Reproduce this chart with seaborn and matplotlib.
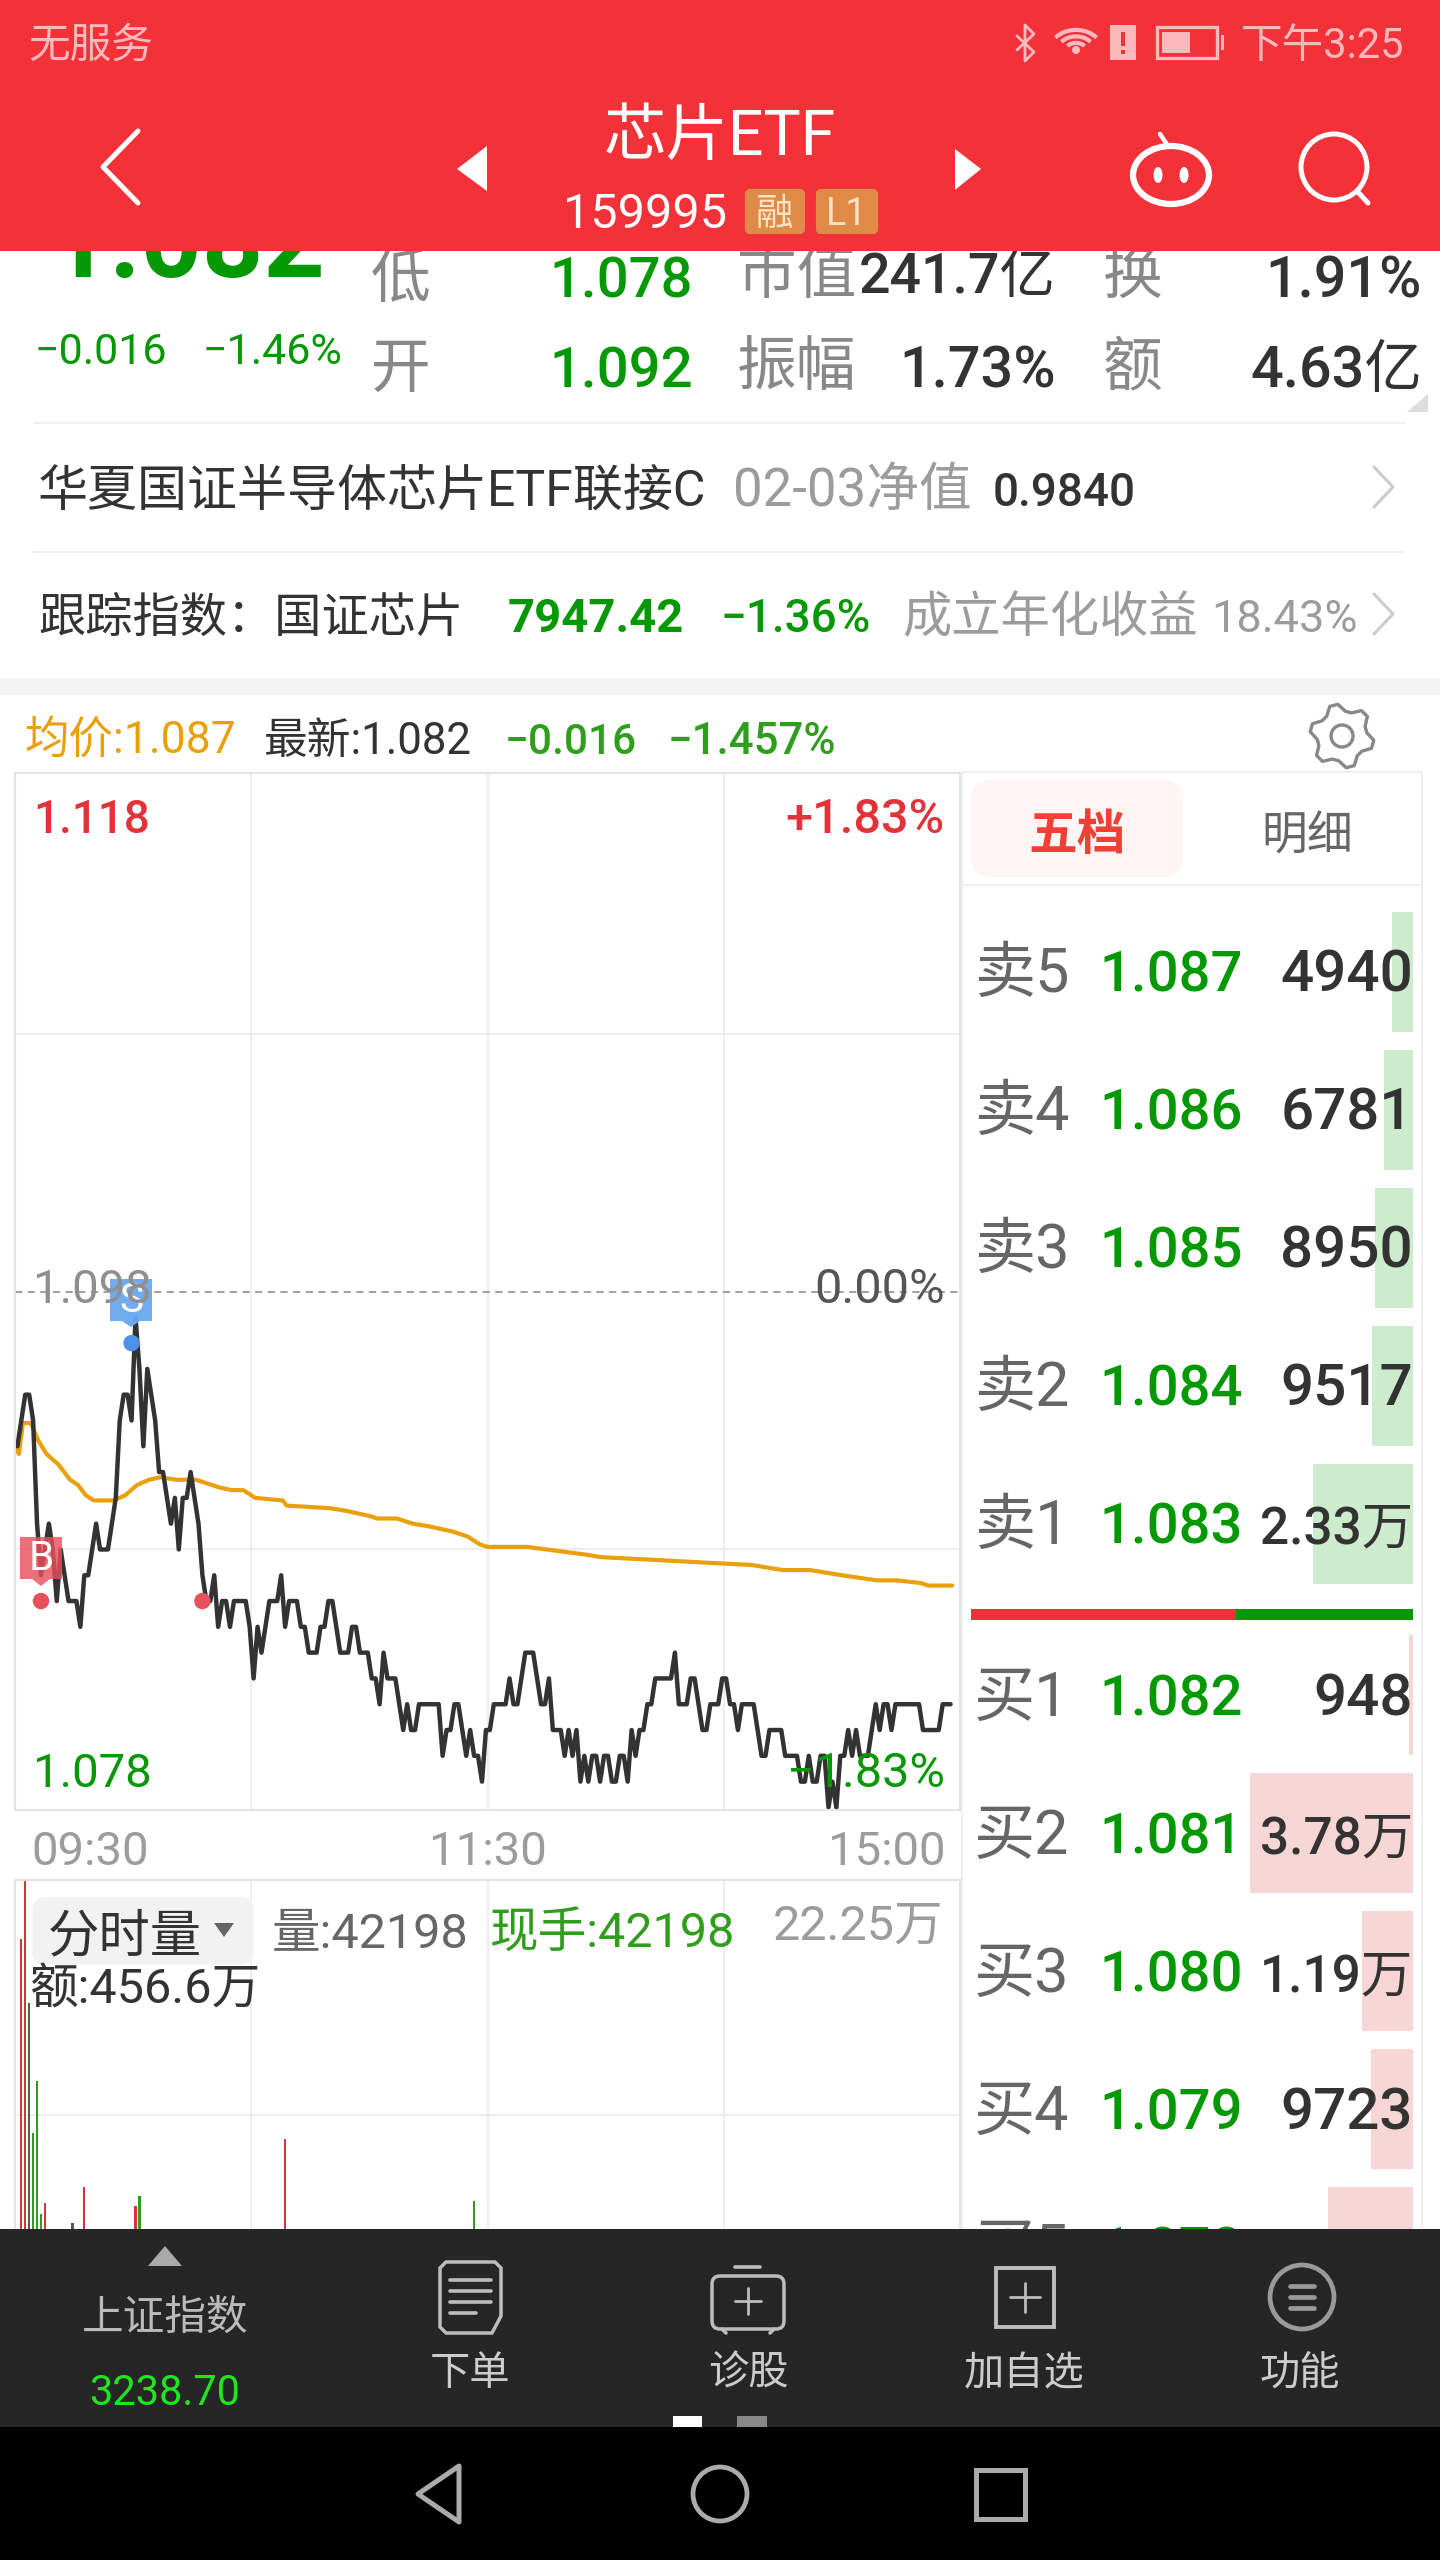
"""Intraday quote screen for the chip ETF, redrawn with seaborn."""

import math

import matplotlib

matplotlib.use("Agg")
import matplotlib.pyplot as plt  # noqa: E402
import seaborn as sns
from matplotlib.patches import Circle, Ellipse, FancyBboxPatch, Polygon, Rectangle, Arc

W, H = 1440, 2560

# last price per minute
price = [
    1.092, 1.093, 1.094, 1.094, 1.093, 1.089, 1.087, 1.088, 1.089, 1.088,
    1.086, 1.088, 1.087, 1.086, 1.086, 1.086, 1.085, 1.087, 1.087, 1.088,
    1.089, 1.088, 1.088, 1.088, 1.089, 1.090, 1.093, 1.094, 1.094, 1.093,
    1.097, 1.095, 1.092, 1.095, 1.094, 1.093, 1.091, 1.091, 1.090, 1.089,
    1.090, 1.088, 1.090, 1.090, 1.091, 1.090, 1.089, 1.087, 1.086, 1.086,
    1.087, 1.085, 1.086, 1.086, 1.085, 1.086, 1.086, 1.086, 1.086, 1.085,
    1.083, 1.085, 1.084, 1.085, 1.086, 1.086, 1.086, 1.087, 1.085, 1.086,
    1.086, 1.086, 1.085, 1.085, 1.084, 1.084, 1.084, 1.085, 1.085, 1.086,
    1.086, 1.085, 1.084, 1.084, 1.084, 1.085, 1.085, 1.084, 1.084, 1.084,
    1.083, 1.083, 1.082, 1.084, 1.083, 1.083, 1.083, 1.082, 1.081, 1.082,
    1.081, 1.081, 1.082, 1.082, 1.082, 1.082, 1.082, 1.082, 1.080, 1.081,
    1.081, 1.082, 1.082, 1.081, 1.080, 1.081, 1.080, 1.080, 1.079, 1.081,
    1.081, 1.082, 1.082, 1.082, 1.082, 1.083, 1.082, 1.082, 1.083, 1.084,
    1.084, 1.084, 1.083, 1.082, 1.082, 1.083, 1.081, 1.081, 1.081, 1.080,
    1.081, 1.080, 1.081, 1.079, 1.080, 1.079, 1.080, 1.080, 1.079, 1.080,
    1.080, 1.079, 1.079, 1.080, 1.080, 1.079, 1.081, 1.080, 1.081, 1.081,
    1.082, 1.082, 1.083, 1.083, 1.083, 1.083, 1.083, 1.084, 1.082, 1.082,
    1.082, 1.083, 1.083, 1.082, 1.081, 1.081, 1.082, 1.082, 1.082, 1.083,
    1.083, 1.082, 1.082, 1.081, 1.082, 1.082, 1.082, 1.082, 1.081, 1.080,
    1.080, 1.081, 1.081, 1.081, 1.081, 1.080, 1.080, 1.080, 1.080, 1.079,
    1.079, 1.080, 1.079, 1.079, 1.080, 1.080, 1.078, 1.079, 1.078, 1.080,
    1.080, 1.081, 1.080, 1.081, 1.080, 1.080, 1.080, 1.081, 1.082, 1.081,
    1.082, 1.082, 1.081, 1.082, 1.082, 1.082, 1.082, 1.082, 1.082, 1.082,
    1.081, 1.081, 1.081, 1.081, 1.081, 1.082, 1.082, 1.082,
]

# average price, read at the points where the curve changes slope
avg_minute = [
    0, 1, 2, 4, 6, 8, 11, 14, 16, 18, 20, 25, 28, 31, 34, 37, 41, 46, 50, 52,
    55, 58, 61, 68, 69, 80, 84, 90, 92, 97, 101, 105, 108, 111, 115, 117, 118,
    120, 130, 135, 145, 149, 162, 174, 187, 195, 202, 206, 210, 219, 224, 230,
    232, 238,
]
avg_price = [
    1.0920, 1.0917, 1.0929, 1.0929, 1.0922, 1.0917, 1.0913, 1.0907, 1.0905,
    1.0901, 1.0899, 1.0899, 1.0901, 1.0905, 1.0907, 1.0908, 1.0907, 1.0907,
    1.0905, 1.0904, 1.0903, 1.0903, 1.0900, 1.0899, 1.0897, 1.0896, 1.0895,
    1.0893, 1.0892, 1.0892, 1.0890, 1.0889, 1.0888, 1.0887, 1.0885, 1.0883,
    1.0882, 1.0881, 1.0881, 1.0880, 1.0878, 1.0877, 1.0876, 1.0875, 1.0874,
    1.0872, 1.0872, 1.0871, 1.0870, 1.0868, 1.0868, 1.0867, 1.0866, 1.0866,
]

# buy and sell flags on the price line
trade_minute = [6, 47, 29]
trade_price = [1.086, 1.086, 1.096]
trade_side = ["buy", "buy", "sell"]

# the tall volume bars that show above the bottom bar
vol_minute = [1, 2, 3, 4, 5, 6, 7, 14, 17, 30, 31, 68, 116]
vol_value = [
    194600, 222500, 164300, 102700, 127300, 64400, 69600,
    60100, 77200, 68200, 72900, 99900, 70500,
]
vol_side = [
    "up", "up", "flat", "down", "down", "down", "up",
    "flat", "up", "up", "down", "up", "down",
]

ask_labels = ["卖5", "卖4", "卖3", "卖2", "卖1"]
ask_prices = ["1.087", "1.086", "1.085", "1.084", "1.083"]
ask_volumes = [4940, 6781, 8950, 9517, 23300]
ask_texts = ["4940", "6781", "8950", "9517", "2.33万"]

bid_labels = ["买1", "买2", "买3", "买4", "买5"]
bid_prices = ["1.082", "1.081", "1.080", "1.079", "1.078"]
bid_volumes = [948, 37800, 11900, 9723, 19800]
bid_texts = ["948", "3.78万", "1.19万", "9723", "1.98万"]

nav_labels = ["下单", "诊股", "加自选", "功能"]

RED = "#F23139"
GREEN = "#049804"
GREEN2 = "#2F9E1D"
PRICE_RED = "#E2323A"
ORANGE = "#E9A00C"
DARK = "#333333"
GRAY = "#9C9C9C"
MID = "#666666"
LINE = "#ECECEC"

sns.set_theme(style="white")
plt.rcParams["font.family"] = ["Roboto", "Noto Sans CJK SC", "DejaVu Sans"]
plt.rcParams["axes.unicode_minus"] = False

fig = plt.figure(figsize=(W / 100, H / 100), dpi=100, facecolor="white")


def layer(z):
    ax = fig.add_axes([0, 0, 1, 1], zorder=z, facecolor="none")
    ax.set_xlim(0, W)
    ax.set_ylim(H, 0)
    ax.axis("off")
    return ax


def panel(left, top, right, bottom, z=1):
    ax = fig.add_axes(
        [left / W, 1 - bottom / H, (right - left) / W, (bottom - top) / H],
        zorder=z,
        facecolor="none",
    )
    return ax


def put(ax, x, y, s, size, color, ha="left", weight="normal"):
    ax.text(x, y, s, fontsize=size, color=color, ha=ha, va="baseline", fontweight=weight)


def rect(ax, x0, y0, x1, y1, color, **kw):
    ax.add_patch(Rectangle((x0, y0), x1 - x0, y1 - y0, fc=color, ec="none", **kw))


def stroke(ax, xs, ys, color, lw):
    ax.plot(xs, ys, color=color, lw=lw, solid_capstyle="round", solid_joinstyle="round")


back = layer(0)
over = layer(3)
front = layer(4)

# page furniture behind the charts
rect(back, 0, 678, W, 695, "#F4F4F4")
for y in (423, 552):
    back.plot([34, 1405], [y, y], color=LINE, lw=1.2)
back.add_patch(Polygon([[1428, 394], [1428, 412], [1407, 412]], fc="#DDDDDD", ec="none"))
for y in (487, 614):
    stroke(back, [1374, 1393, 1374], [y - 20, y, y + 20], "#CCCCCC", 2.2)
back.plot([1422, 1422], [772, 2229], color=LINE, lw=1.2)
back.plot([962, 1422], [772, 772], color=LINE, lw=1.2)
back.plot([962, 962], [772, 2229], color=LINE, lw=1.2)
back.plot([962, 1422], [885, 885], color=LINE, lw=1.2)
back.add_patch(
    FancyBboxPatch((971, 780), 212, 97, boxstyle="round,pad=0,rounding_size=20",
                   fc="#FFF5F4", ec="none")
)

# price panel
price_ax = panel(15, 773, 960, 1810)
minutes = [i + 0.6 for i in range(len(price))]
sns.lineplot(x=avg_minute, y=avg_price, ax=price_ax, color=ORANGE, linewidth=3.0, errorbar=None)
sns.lineplot(x=minutes, y=price, ax=price_ax, color=DARK, linewidth=3.2, errorbar=None,
             solid_joinstyle="round")
sns.scatterplot(
    x=[m + 0.6 for m in trade_minute], y=trade_price, hue=trade_side, ax=price_ax,
    palette={"buy": "#E8505B", "sell": "#4F90E8"}, s=140, linewidth=0, legend=False, zorder=5,
)
price_ax.set_xlim(0, 240)
price_ax.set_ylim(1.0779, 1.1181)
price_ax.set_xticks([60, 120, 180])
price_ax.set_yticks([1.088, 1.108])
price_ax.set_xticklabels([])
price_ax.set_yticklabels([])
price_ax.tick_params(length=0)
price_ax.set_xlabel("")
price_ax.set_ylabel("")
price_ax.grid(True, color="#E8E8E8", lw=1.1)
price_ax.axhline(1.098, color="#999999", lw=1.3, ls=(0, (4, 3)))
for side in price_ax.spines.values():
    side.set_color("#E4E4E4")
    side.set_linewidth(1.5)

# volume panel, its lower half runs under the bottom bar
vol_ax = panel(15, 1880, 960, 2350)
sns.barplot(
    x=[m + 0.6 for m in vol_minute], y=vol_value, hue=vol_side, ax=vol_ax, native_scale=True,
    palette={"up": "#D8333B", "down": "#2F9E1D", "flat": "#555555"},
    dodge=False, legend=False, width=0.6, saturation=1, linewidth=0,
)
vol_ax.set_xlim(0, 240)
vol_ax.set_ylim(0, 222500)
vol_ax.set_xticks([60, 120, 180])
vol_ax.set_yticks([111250])
vol_ax.set_xticklabels([])
vol_ax.set_yticklabels([])
vol_ax.tick_params(length=0)
vol_ax.set_xlabel("")
vol_ax.set_ylabel("")
vol_ax.grid(True, color="#E8E8E8", lw=1.1)
vol_ax.set_axisbelow(True)
for side in vol_ax.spines.values():
    side.set_color("#E4E4E4")
    side.set_linewidth(1.5)

# order book bars grow out of the right edge
ask_ax = panel(971, 903, 1413, 1593)
sns.barplot(x=ask_volumes, y=ask_labels, ax=ask_ax, orient="h", color="#CDEBCD",
            saturation=1, width=0.875, linewidth=0)
bid_ax = panel(971, 1626, 1413, 2316)
sns.barplot(x=bid_volumes, y=bid_labels, ax=bid_ax, orient="h", color="#F9D6D6",
            saturation=1, width=0.875, linewidth=0)
for ax in (ask_ax, bid_ax):
    ax.set_xlim(102800, 0)
    ax.set_xlabel("")
    ax.set_ylabel("")
    ax.set_xticks([])
    ax.set_yticks([])
    sns.despine(ax=ax, left=True, bottom=True)

rect(back, 971, 1609, 1236, 1620, "#EC3237")
rect(back, 1236, 1609, 1413, 1620, GREEN)

# B and S flags cover the price line, the labels stay on top of them
rect(over, 20, 1537, 62, 1579, "#E8505B", alpha=0.82)
over.add_patch(Polygon([[32, 1579], [50, 1579], [41, 1586]], fc="#E8505B", ec="none", alpha=0.82))
rect(over, 110, 1279, 152, 1321, "#6AA8F0", alpha=0.95)
over.add_patch(Polygon([[122, 1321], [140, 1321], [131, 1327]], fc="#6AA8F0", ec="none"))
over.text(41, 1558, "B", color="white", fontsize=29, ha="center", va="center")
over.text(131, 1300, "S", color="white", fontsize=29, ha="center", va="center")

# quote summary, the big price slides under the header
put(over, 48, 277, "1.082", 77, GREEN, weight="bold")
put(over, 35, 364, "−0.016", 31, GREEN)
put(over, 203, 364, "−1.46%", 31, GREEN)
put(over, 371, 297, "低", 43, "#888888")
put(over, 371, 387, "开", 43, "#888888")
put(over, 549, 297, "1.078", 40.5, GREEN, weight="medium")
put(over, 549, 387, "1.092", 40.5, GREEN, weight="medium")
put(over, 737, 293, "市值", 43, "#888888")
put(over, 737, 385, "振幅", 43, "#888888")
put(over, 1056, 293, "241.7亿", 40, DARK, ha="right", weight="medium")
put(over, 1056, 387, "1.73%", 41.5, DARK, ha="right", weight="medium")
put(over, 1103, 293, "换", 43, "#888888")
put(over, 1103, 385, "额", 43, "#888888")
put(over, 1422, 297, "1.91%", 41.5, DARK, ha="right", weight="medium")
put(over, 1422, 387, "4.63亿", 41.5, DARK, ha="right", weight="medium")

put(over, 38, 506, "华夏国证半导体芯片ETF联接C", 36, DARK)
put(over, 733, 506, "02-03净值", 38, GRAY)
put(over, 993, 506, "0.9840", 33, DARK, weight="medium")
put(over, 38, 632, "跟踪指数：国证芯片", 34, DARK)
put(over, 508, 632, "7947.42", 34, GREEN, weight="bold")
put(over, 720, 632, "−1.36%", 33, GREEN, weight="medium")
put(over, 902, 632, "成立年化收益", 35.5, GRAY)
put(over, 1211, 632, "18.43%", 32.5, GRAY)

put(over, 24, 754, "均价:1.087", 32, ORANGE)
put(over, 264, 754, "最新:1.082", 31.5, DARK)
put(over, 505, 754, "−0.016", 30.5, GREEN2, weight="medium")
put(over, 668, 754, "−1.457%", 31.5, GREEN2, weight="medium")

# gear icon
gear = []
for k in range(24):
    r = 32 if k % 4 in (0, 1) else 25
    a = math.radians(k * 15 + 7.5)
    gear.append([1342 + r * math.cos(a), 736 + r * math.sin(a)])
over.add_patch(Polygon(gear, fc="none", ec="#888888", lw=2.4, joinstyle="round"))
over.add_patch(Circle((1342, 736), 11, fc="none", ec="#888888", lw=2.4))

# chart labels
put(over, 33, 833, "1.118", 33, PRICE_RED, weight="medium")
put(over, 945, 833, "+1.83%", 35, PRICE_RED, ha="right", weight="medium")
put(over, 33, 1303, "1.098", 34, "#8F8F8F")
put(over, 945, 1303, "0.00%", 35, "#555555", ha="right")
put(over, 33, 1787, "1.078", 34, GREEN)
put(over, 945, 1787, "−1.83%", 35, GREEN, ha="right")
put(over, 31, 1865, "09:30", 34, GRAY)
put(over, 488, 1865, "11:30", 34, GRAY, ha="center")
put(over, 945, 1865, "15:00", 34, GRAY, ha="right")

over.add_patch(
    FancyBboxPatch((38, 1903), 210, 56, boxstyle="round,pad=0,rounding_size=6",
                   fc="#F2F2F2", ec="#F2F2F2", lw=8, zorder=1)
)
put(over, 48, 1951, "分时量", 37, DARK)
over.add_patch(Polygon([[214, 1923], [234, 1923], [224, 1937]], fc="#666666", ec="none"))
put(over, 272, 1948, "量:42198", 35, MID)
put(over, 490, 1948, "现手:42198", 35, GREEN2)
put(over, 943, 1940, "22.25万", 35, GRAY, ha="right")
put(over, 29, 2003, "额:456.6万", 35, DARK)

# order book text
put(over, 1077, 850, "五档", 35, "#F04035", ha="center", weight="bold")
put(over, 1307, 850, "明细", 33, MID, ha="center")
for i in range(5):
    y = 992 + 138 * i
    put(over, 974, y, ask_labels[i], 44, MID)
    put(over, 1099, y, ask_prices[i], 40.5, GREEN, weight="medium")
    put(over, 1413, y, ask_texts[i], 42 if i < 4 else 37, DARK, ha="right", weight="medium")
    y = 1716 + 138 * i
    put(over, 974, y, bid_labels[i], 44, MID)
    put(over, 1099, y, bid_prices[i], 40.5, GREEN, weight="medium")
    put(over, 1413, y, bid_texts[i], 42 if i in (0, 3) else 37, DARK, ha="right", weight="medium")

# red header
rect(front, 0, 0, W, 251, RED)
put(front, 28, 58, "无服务", 30, "#FAB9BD")
put(front, 1404, 58, "下午3:25", 30, "#FAB9BD", ha="right")
put(front, 720, 155, "芯片ETF", 45, "white", ha="center")
put(front, 563, 228, "159995", 35, "white")
for x0, x1, s in ((744, 806, "融"), (815, 879, "L1")):
    front.add_patch(
        FancyBboxPatch((x0 + 3, 191), x1 - x0 - 6, 41, boxstyle="round,pad=0,rounding_size=3",
                       fc="#E08A47", ec="#E08A47", lw=3)
    )
    put(front, (x0 + x1) / 2, 225, s, 27, "#FBE3C8", ha="center")
stroke(front, [138, 103, 138], [131, 167, 203], "white", 3.6)
front.add_patch(Polygon([[487, 146], [457, 169], [487, 191]], fc="white", ec="none"))
front.add_patch(Polygon([[955, 149], [981, 169], [955, 190]], fc="white", ec="none"))
front.add_patch(Ellipse((1171, 175), 76, 58, fc="none", ec="white", lw=4.5))
front.add_patch(Ellipse((1158, 175), 9, 16, fc="white", ec="none"))
front.add_patch(Ellipse((1184, 175), 9, 16, fc="white", ec="none"))
stroke(front, [1168, 1160], [146, 134], "white", 3.2)
front.add_patch(Circle((1334, 167), 33, fc="none", ec="white", lw=3.6))
stroke(front, [1357, 1368], [191, 203], "white", 3.6)

# status bar icons
PINK = "#FAB9BD"
stroke(front, [1017, 1034, 1025, 1025, 1034, 1017], [36, 52, 61, 25, 34, 50], PINK, 2.0)
for r in (14, 24, 34):
    front.add_patch(Arc((1076, 52), r * 1.6, r * 1.3, theta1=215, theta2=325, color=PINK, lw=3))
front.add_patch(Circle((1076, 50), 4, fc=PINK, ec="none"))
rect(front, 1110, 25, 1136, 60, PINK)
rect(front, 1121, 32, 1125, 46, RED)
rect(front, 1121, 50, 1125, 54, RED)
front.add_patch(Rectangle((1157, 27), 60, 31, fc="none", ec=PINK, lw=2.4))
rect(front, 1162, 32, 1190, 53, PINK)
rect(front, 1221, 35, 1224, 50, PINK)

# bottom bar and system navigation
rect(front, 0, 2229, W, 2427, "#262626")
rect(front, 0, 2427, W, H, "black")
front.add_patch(Polygon([[165, 2246], [148, 2266], [182, 2266]], fc="#AAAAAA", ec="none"))
put(front, 165, 2330, "上证指数", 30, "#BBBBBB", ha="center")
put(front, 165, 2405, "3238.70", 30, "#1FE61F", ha="center")
for x, s in zip((470, 748, 1024, 1300), nav_labels):
    put(front, x, 2385, s, 29, "#CCCCCC", ha="center")

ICON = "#BDBDBD"
front.add_patch(Polygon([[440, 2268], [446, 2262], [495, 2262], [501, 2268], [501, 2316],
                         [492, 2333], [446, 2333], [440, 2327]], fc="none", ec=ICON, lw=2.5))
for y in (2280, 2291, 2302):
    stroke(front, [450, 491], [y, y], ICON, 2.6)
stroke(front, [450, 476], [2313, 2313], ICON, 2.6)
front.add_patch(FancyBboxPatch((712, 2276), 72, 53, boxstyle="round,pad=0,rounding_size=8",
                               fc="none", ec=ICON, lw=2.5))
stroke(front, [735, 760], [2267, 2267], ICON, 2.6)
stroke(front, [722, 726], [2329, 2333], ICON, 2.6)
stroke(front, [770, 774], [2333, 2329], ICON, 2.6)
stroke(front, [748, 748], [2288, 2314], ICON, 2)
stroke(front, [735, 761], [2301, 2301], ICON, 2)
front.add_patch(Rectangle((996, 2268), 58, 59, fc="none", ec=ICON, lw=2.8))
stroke(front, [1025, 1025], [2283, 2312], ICON, 2)
stroke(front, [1010, 1040], [2297, 2297], ICON, 2)
front.add_patch(Circle((1302, 2297), 32, fc="none", ec="#9A9A9A", lw=3.4))
for y in (2286, 2297, 2308):
    stroke(front, [1290, 1314], [y, y], "#9A9A9A", 3.4)
rect(front, 673, 2416, 702, 2427, "white")
rect(front, 737, 2416, 767, 2427, "#888888")

NAV = "#ABABAB"
front.add_patch(Polygon([[459, 2466], [418, 2494], [459, 2522]], fc="none", ec=NAV, lw=3.6,
                        joinstyle="round"))
front.add_patch(Circle((720, 2494), 27, fc="none", ec=NAV, lw=3.4))
front.add_patch(Rectangle((976, 2470), 49, 49, fc="none", ec=NAV, lw=3.6))

fig.savefig("out.png", dpi=100)
plt.close(fig)
